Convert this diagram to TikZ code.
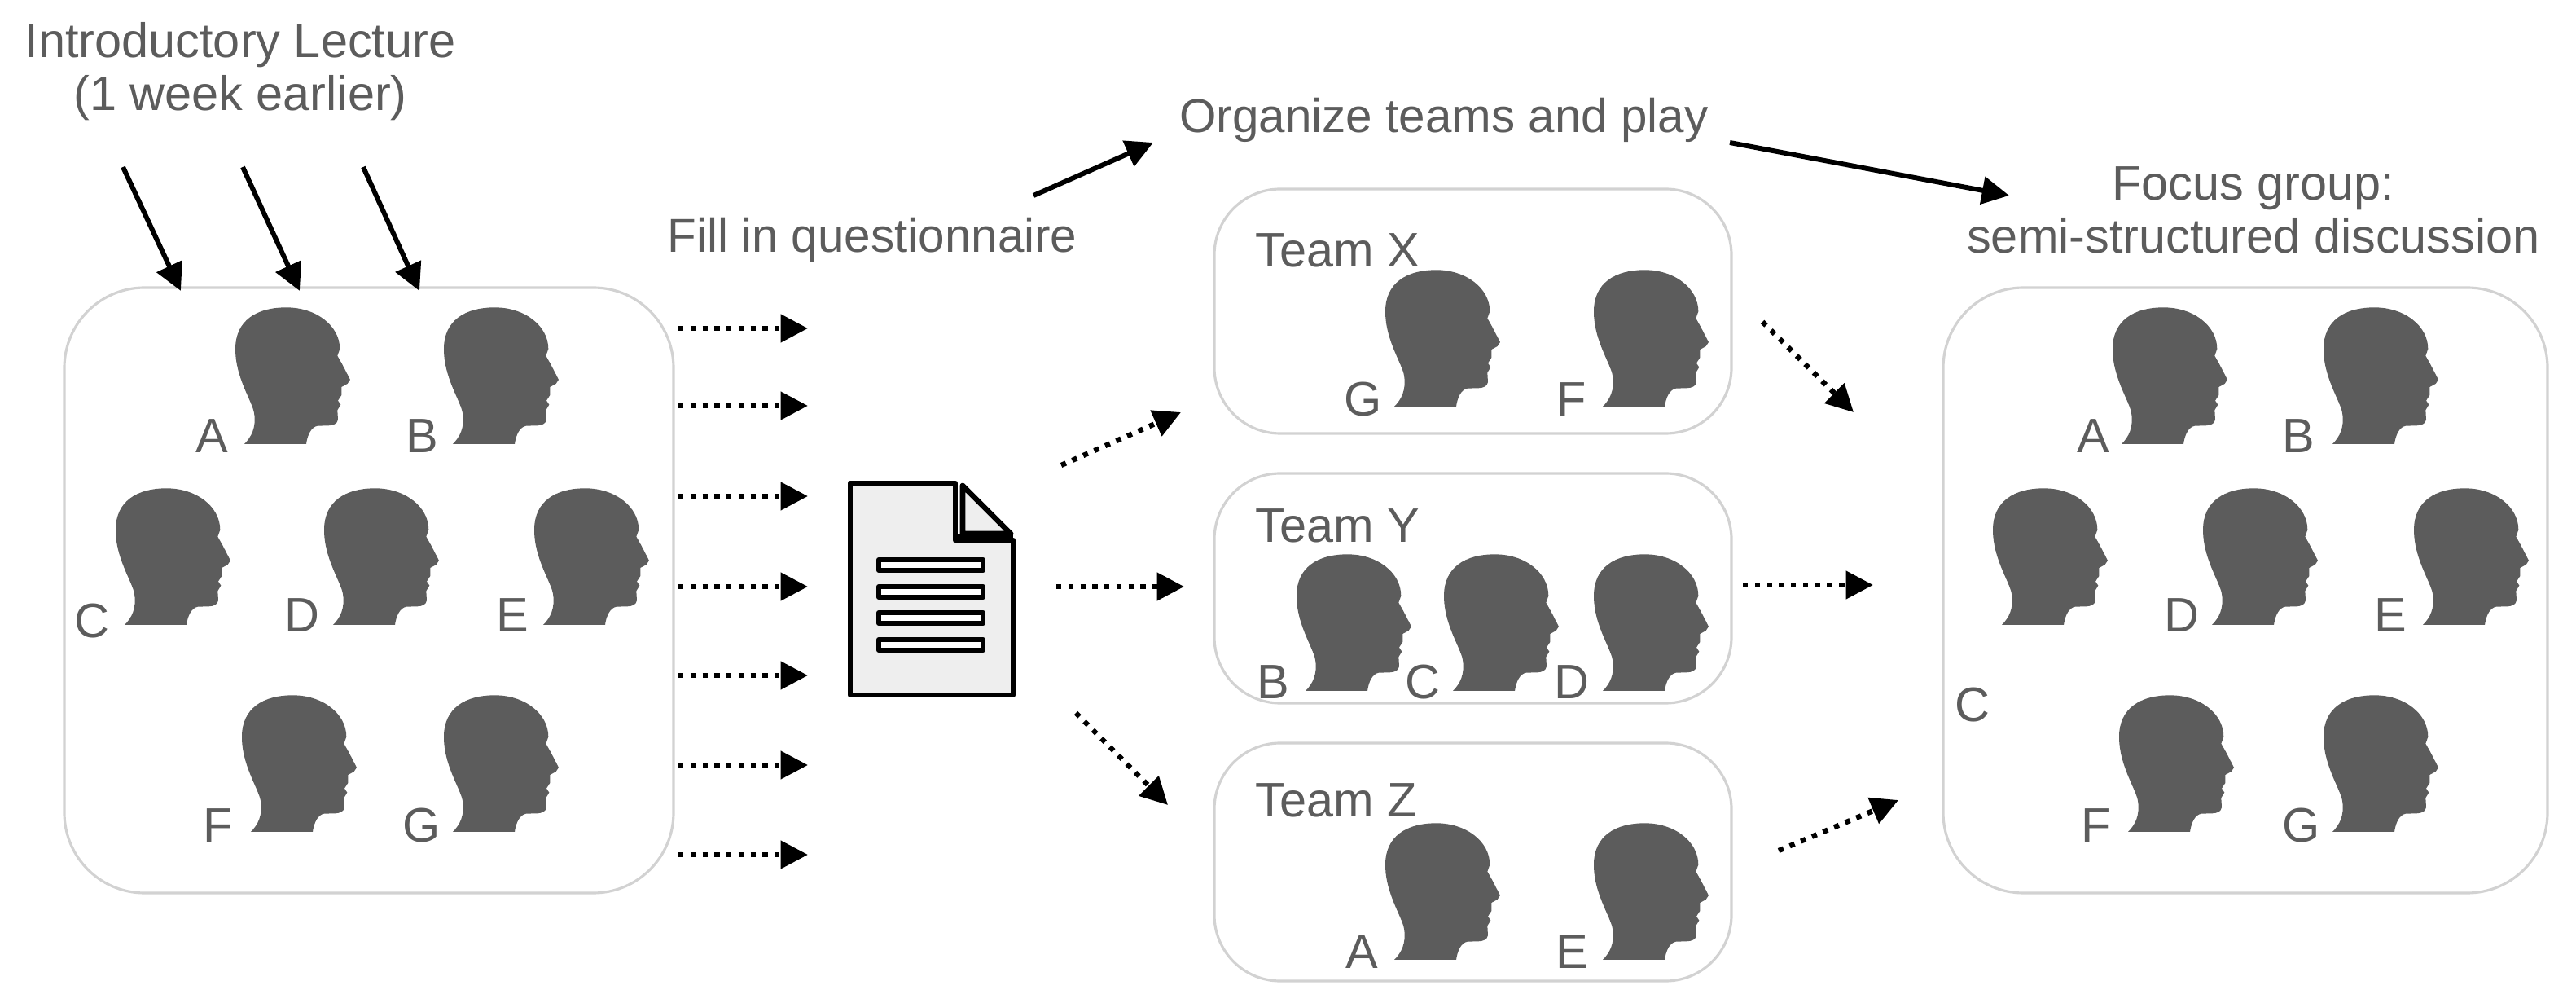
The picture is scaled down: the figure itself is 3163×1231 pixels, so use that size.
\documentclass[tikz,border=0pt]{standalone}
\usepackage{fontspec}
\setmainfont{Liberation Sans}
\usetikzlibrary{arrows.meta}
\definecolor{ink}{HTML}{5C5C5C}
\definecolor{boxline}{HTML}{D2D2D2}
\definecolor{paper}{HTML}{EEEEEE}
\newcommand{\txtfont}{\fontsize{16.9}{18.5}\selectfont}
\newcommand{\txtfontb}{\fontsize{16.6}{18.5}\selectfont}
\tikzset{
  x=0.01cm,y=-0.01cm,
  txt/.style={text=ink,font=\txtfont,inner sep=0pt,align=center},
  lab/.style={txt},
  grp/.style={draw=boxline,line width=0.9pt,fill=white,rounded corners=#1},
  solidarrow/.style={line width=1.7pt,-{Triangle[length=9.5pt,width=9.5pt]},black},
  dotarrow/.style={line width=1.8pt,dash pattern=on 1.8pt off 2.4pt,-{Triangle[length=9.5pt,width=9.5pt,sep=0pt]},black},
  docline/.style={draw=black,line width=1.9pt,line join=round},
  pics/headshape/.style={code={
    \fill[ink,scale=0.3333] (240,615) .. controls (265,590) and (285,555) .. (276,500)
      .. controls (268,455) and (207,370) .. (207,265)
      .. controls (207,160) and (285,112) .. (395,112)
      .. controls (505,112) and (592,180) .. (592,265)
      -- (583,290) -- (600,320) -- (630,378) -- (620,393) -- (598,405) -- (598,435)
      -- (585,455) -- (595,470) -- (583,490) -- (585,525)
      .. controls (582,540) and (570,546) .. (550,547)
      -- (510,548) .. controls (485,552) and (472,585) .. (468,615) -- cycle;
  }}
}
\begin{document}
\begin{tikzpicture}
\useasboundingbox (0,0) rectangle (3163,1231);
% groups
\draw[grp=28pt] (79,353) rectangle (827,1096);
\draw[grp=28pt] (2386,353) rectangle (3128,1096);
\draw[grp=23pt] (1491,232) rectangle (2126,532);
\draw[grp=23pt] (1491,581) rectangle (2126,863);
\draw[grp=23pt] (1491,912) rectangle (2126,1204);
% heads
\foreach \n/\x/\y in {a/220/340,b/476/340,c/73/562,d/329/562,e/587/562,f/228/816,g/476/816,
  xg/1632/294,xf/1888/294,
  yb/1523/643,yc/1704/643,yd/1888/643,
  za/1632/973,ze/1888/973,
  ra/2525/340,rb/2784/340,rc/2378/562,rd/2636/562,re/2895/562,rf/2533/816,rg/2784/816}
  \pic (h\n) at (\x,\y) {headshape};
% labels
\foreach \n/\t/\x/\y in {a/A/260/535,b/B/518/535,c/C/113/762,d/D/371/755,e/E/629/755,f/F/268/1013,g/G/518/1013,
  xg/G/1674/490,xf/F/1930/490,
  yb/B/1563/837,yc/C/1747/837,yd/D/1930/837,
  za/A/1672/1168,ze/E/1930/1168,
  ra/A/2570/535,rb/B/2822/535,rd/D/2679/755,re/E/2935/755,rc/C/2422/865,rf/F/2574/1013,rg/G/2826/1013}
  \node[lab] (l\n) at (\x,\y) {\t};
\node[txt] (intro) at (295,88) {Introductory Lecture\\(1 week earlier)};
\node[txt,font=\txtfontb] (fill) at (1071,294) {Fill in questionnaire};
\node[txt,font=\txtfontb] (org) at (1773,147) {Organize teams and play};
\node[txt] (focus) at (2767,258) {Focus group:\\semi-structured discussion};
\node[txt,anchor=west] (tx) at (1541,307) {Team X};
\node[txt,anchor=west] (ty) at (1541,645) {Team Y};
\node[txt,anchor=west] (tz) at (1541,982) {Team Z};
% document
\draw[docline,fill=paper] (1044,593) -- (1173,593) -- (1173,663) -- (1244,663) -- (1244,853) -- (1044,853) -- cycle;
\draw[docline,fill=paper] (1182,596) -- (1241,655) -- (1182,655) -- cycle;
\draw[docline,line width=2.6pt] (1173,660) -- (1244,660);
\foreach \y in {687,720,752,785}
  \draw[docline,line width=1.7pt,fill=white] (1079,\y) rectangle (1207,\y+13);
% solid connectors
\foreach \i/\a/\b/\c/\d in {1/151/205/222/357,2/298/205/368/357,3/446/205/515/357}{
  \coordinate (s\i) at (\a,\b); \coordinate (e\i) at (\c,\d);
  \draw[solidarrow] (s\i) -- (e\i);
}
\coordinate (q1) at (1269,240); \coordinate (q2) at (1416,175);
\coordinate (q3) at (2124,175); \coordinate (q4) at (2467,240);
\draw[solidarrow] (q1) -- (q2);
\draw[solidarrow] (q3) -- (q4);
% dotted connectors
\foreach \i/\y in {1/403,2/498,3/609,4/720,5/829,6/939,7/1049}{
  \coordinate (ds\i) at (833,\y); \coordinate (de\i) at (992,\y);
  \draw[dotarrow] (ds\i) -- (de\i);
}
\foreach \i/\a/\b/\c/\d in {1/1303/571/1450/506,2/1297/720/1454/720,3/1321/875/1434/988,
   4/2164/395/2276/506,5/2140/718/2300/718,6/2184/1044/2331/982}{
  \coordinate (ts\i) at (\a,\b); \coordinate (te\i) at (\c,\d);
  \draw[dotarrow] (ts\i) -- (te\i);
}
\end{tikzpicture}
\end{document}
